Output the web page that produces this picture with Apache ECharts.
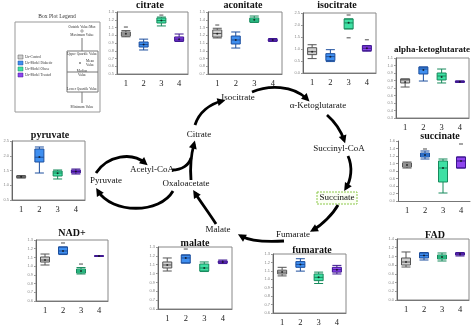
<!DOCTYPE html>
<html><head><meta charset="utf-8">
<script src="https://cdn.jsdelivr.net/npm/echarts@6/dist/echarts.min.js"></script>
<style>html,body{margin:0;padding:0;background:#fff}#c{width:474px;height:327px}</style>
</head><body><div id="c"></div>
<script>
// ---------- DATA ----------
const groups = ['1', '2', '3', '4'];
const groupNames = ['Un-Control', 'Un-Model Diabetic', 'Un-Model Obese', 'Un-Model Treated'];
// boxes: [min, Q1, median, Q3, max] for groups 1..4
const citrateBox = [[0.98, 0.99, 1.016, 1.042, 1.06], [0.81, 0.848, 0.88, 0.913, 0.95], [1.12, 1.158, 1.19, 1.223, 1.235], [0.92, 0.926, 0.95, 0.978, 1.016]];
const citrateMean = [1.02, 0.88, 1.19, 0.95];
const citrateOut = [[0, 1.106], [2, 1.26]];
const aconitateBox = [[1.165, 1.177, 1.223, 1.268, 1.29], [1.035, 1.087, 1.139, 1.19, 1.242], [1.365, 1.371, 1.397, 1.423, 1.448], [1.12, 1.126, 1.139, 1.148, 1.158]];
const aconitateMean = [1.22, 1.14, 1.40, 1.14];
const aconitateOut = [[0, 1.332]];
const isocitrateBox = [[0.6, 0.765, 0.889, 1.054, 1.178], [0.476, 0.517, 0.682, 0.806, 0.972], [1.839, 1.839, 2.087, 2.252, 2.252], [0.91, 0.93, 1.033, 1.137, 1.137]];
const isocitrateMean = [0.89, 0.68, 2.09, 1.03];
const isocitrateOut = [[2, 2.417], [2, 1.467], [3, 1.385]];
const akgBox = [[0.713, 0.767, 0.807, 0.82, 0.82], [0.793, 0.887, 0.953, 0.98, 0.98], [0.767, 0.807, 0.86, 0.9, 0.953], [0.776, 0.776, 0.784, 0.793, 0.793]];
const akgMean = [0.78, 0.94, 0.847, 0.784];
const akgOut = [];
const pyruvateBox = [[1.246, 1.256, 1.286, 1.314, 1.33], [1.415, 1.788, 1.95, 2.229, 2.297], [1.212, 1.314, 1.415, 1.483, 1.517], [1.38, 1.415, 1.466, 1.517, 1.55]];
const pyruvateMean = [1.29, 1.96, 1.41, 1.47];
const pyruvateOut = [];
const succinateBox = [[0.88, 0.907, 0.96, 1.013, 1.04], [1.12, 1.173, 1.227, 1.28, 1.333], [0.213, 0.507, 0.88, 1.067, 1.12], [0.88, 0.88, 1.067, 1.173, 1.173]];
const succinateMean = [0.96, 1.227, 0.88, 1.07];
const succinateOut = [[1, 1.387], [3, 1.52]];
const nadBox = [[1.013, 1.047, 1.07, 1.105, 1.139], [1.133, 1.139, 1.174, 1.22, 1.22], [0.91, 0.921, 0.944, 0.967, 0.984], [1.113, 1.114, 1.116, 1.118, 1.119]];
const nadMean = [1.07, 1.174, 0.944, 1.116];
const nadOut = [[1, 1.266], [2, 1.024]];
const malateBox = [[1.029, 1.063, 1.097, 1.131, 1.176], [1.119, 1.119, 1.176, 1.21, 1.21], [1.023, 1.029, 1.063, 1.108, 1.131], [1.113, 1.119, 1.131, 1.142, 1.153]];
const malateMean = [1.097, 1.176, 1.063, 1.131];
const malateOut = [[1, 1.277]];
const fumarateBox = [[1.04, 1.063, 1.085, 1.108, 1.142], [1.097, 1.142, 1.176, 1.21, 1.244], [0.95, 0.984, 1.023, 1.063, 1.085], [1.063, 1.085, 1.114, 1.142, 1.165]];
const fumarateMean = [1.085, 1.176, 1.023, 1.114];
const fumarateOut = [];
const fadBox = [[0.757, 0.803, 0.872, 0.964, 1.102], [0.918, 0.964, 1.021, 1.079, 1.09], [0.895, 0.941, 0.987, 1.033, 1.079], [1.01, 1.033, 1.056, 1.079, 1.09]];
const fadMean = [0.87, 1.02, 0.987, 1.056];
const fadOut = [];
// y-axis ticks: [min, max, interval]
const citrateTicks = [0.5, 1.3, 0.1];
const aconitateTicks = [0.7, 1.5, 0.1];
const isocitrateTicks = [0, 2.5, 0.5];
const akgTicks = [0.3, 1.1, 0.1];
const pyruvateTicks = [0.5, 2.5, 0.5];
const succinateTicks = [0, 1.6, 0.2];
const nadTicks = [0.6, 1.3, 0.1];
const malateTicks = [0.6, 1.3, 0.1];
const fumarateTicks = [0.6, 1.3, 0.1];
const fadTicks = [0, 1.4, 0.2];
const metaboliteTitles = ['citrate', 'aconitate', 'isocitrate', 'alpha-ketoglutarate', 'pyruvate', 'succinate', 'NAD+', 'malate', 'fumarate', 'FAD'];
const cycleLabels = ['Isocitrate', 'α-Ketoglutarate', 'Citrate', 'Succinyl-CoA', 'Acetyl-CoA', 'Pyruvate', 'Oxaloacetate', 'Succinate', 'Malate', 'Fumarate'];

// ---------- LAYOUT / STYLE ----------
const fills = ['#cfcfcf', '#3f8ff0', '#3fe0a4', '#8f45ee'];
const borders = ['#555', '#1d4f9e', '#178a5c', '#3d1590'];
const SERIF = '"Liberation Serif", "DejaVu Serif", serif';

const plots = [
  {box: citrateBox, mean: citrateMean, out: citrateOut, ticks: citrateTicks, g: [117, 12, 71, 62], t: [150, 5], fs: 10, frame: true},
  {box: aconitateBox, mean: aconitateMean, out: aconitateOut, ticks: aconitateTicks, g: [208, 12, 74, 62], t: [243, 5], fs: 10, frame: true},
  {box: isocitrateBox, mean: isocitrateMean, out: isocitrateOut, ticks: isocitrateTicks, g: [303, 13, 73, 60], t: [337, 5], fs: 10, frame: true},
  {box: akgBox, mean: akgMean, out: akgOut, ticks: akgTicks, g: [396, 58, 73, 60], t: [432, 50], fs: 9, frame: true},
  {box: pyruvateBox, mean: pyruvateMean, out: pyruvateOut, ticks: pyruvateTicks, g: [12, 141, 73, 59], t: [50, 135], fs: 10, frame: true},
  {box: succinateBox, mean: succinateMean, out: succinateOut, ticks: succinateTicks, g: [398, 141, 72, 60], t: [440, 136], fs: 10, frame: false},
  {box: nadBox, mean: nadMean, out: nadOut, ticks: nadTicks, g: [36, 240, 72, 61], t: [72, 233], fs: 10, frame: true},
  {box: malateBox, mean: malateMean, out: malateOut, ticks: malateTicks, g: [158, 247, 74, 62], t: [195, 243], fs: 10, frame: true},
  {box: fumarateBox, mean: fumarateMean, out: fumarateOut, ticks: fumarateTicks, g: [273, 254, 73, 62], t: [312, 250], fs: 10, frame: true},
  {box: fadBox, mean: fadMean, out: fadOut, ticks: fadTicks, g: [397, 239, 72, 61], t: [435, 235], fs: 10, frame: true}
];

const grid = [], xAxis = [], yAxis = [], series = [], graphic = [];
plots.forEach((p, i) => {
  grid.push({left: p.g[0], top: p.g[1], width: p.g[2], height: p.g[3], show: p.frame, borderColor: '#888', borderWidth: 1, backgroundColor: 'transparent'});
  xAxis.push({type: 'category', gridIndex: i, data: groups,
    axisLine: {show: true, lineStyle: {color: '#777'}}, axisTick: {show: false},
    axisLabel: {fontFamily: SERIF, fontSize: 8.5, color: '#222', margin: 5}});
  yAxis.push({type: 'value', gridIndex: i, min: p.ticks[0], max: p.ticks[1], interval: p.ticks[2],
    axisLine: {show: true, lineStyle: {color: '#666'}}, axisTick: {show: true, length: 2, lineStyle: {color: '#999'}},
    splitLine: {show: false},
    axisLabel: {fontSize: 4, color: '#888', margin: 3, formatter: v => v.toFixed(1)}});
  series.push({type: 'boxplot', xAxisIndex: i, yAxisIndex: i, boxWidth: [9, 9],
    data: p.box.map((b, k) => ({value: b, itemStyle: {color: fills[k], borderColor: borders[k], borderWidth: 1}}))});
  series.push({type: 'scatter', xAxisIndex: i, yAxisIndex: i, symbolSize: 2, itemStyle: {color: '#111'},
    data: p.mean.map((m, k) => [k, m])});
  series.push({type: 'scatter', xAxisIndex: i, yAxisIndex: i, symbol: 'rect', symbolSize: [4, 1.2], itemStyle: {color: '#444'},
    data: p.out});
  graphic.push({type: 'text', x: p.t[0], y: p.t[1], style: {text: metaboliteTitles[i], fontFamily: SERIF, fontWeight: 'bold', fontSize: p.fs, fill: '#111', align: 'center', verticalAlign: 'middle'}});
});

// ---------- CYCLE DIAGRAM ----------
const labelPos = [[238, 98], [318, 106], [199, 135], [339, 149], [152, 170], [106, 181], [186, 184], [337, 198], [218, 230], [293, 235]];
cycleLabels.forEach((t, i) => {
  graphic.push({type: 'text', x: labelPos[i][0], y: labelPos[i][1], z: 10, style: {text: t, fontFamily: SERIF, fontSize: 9, fill: '#111', align: 'center', verticalAlign: 'middle'}});
});
graphic.push({type: 'rect', shape: {x: 317, y: 192, width: 40, height: 12}, z: 5, style: {fill: '#fbfff4', stroke: '#8cc84b', lineWidth: 1, lineDash: [2, 1]}});

function arrow(c, head) {
  graphic.push({type: 'bezierCurve', shape: {x1: c[0], y1: c[1], cpx1: c[2], cpy1: c[3], cpx2: c[4], cpy2: c[5], x2: c[6], y2: c[7]},
    style: {stroke: '#000', lineWidth: 2.8, fill: null}});
  if (head) {
    const dx = c[6] - c[4], dy = c[7] - c[5], L = Math.hypot(dx, dy) || 1;
    const ux = dx / L, uy = dy / L, hl = 8, hw = 4;
    const tipx = c[6] + ux * 3.5, tipy = c[7] + uy * 3.5;
    const bx = tipx - ux * hl, by = tipy - uy * hl;
    graphic.push({type: 'polygon', shape: {points: [[tipx, tipy], [bx - uy * hw, by + ux * hw], [bx + uy * hw, by - ux * hw]]}, style: {fill: '#000'}});
  }
}
arrow([195, 125, 199, 112, 210, 104, 222, 101], true);
arrow([252, 92, 268, 85, 293, 85, 307, 99], true);
arrow([327, 115, 335, 122, 341, 131, 344, 140], true);
arrow([348, 156, 353, 167, 351, 180, 346, 188], true);
arrow([338, 205, 333, 214, 322, 225, 313, 230], true);
arrow([284, 241, 268, 242, 252, 242, 241, 236], true);
arrow([216, 224, 209, 213, 200, 201, 195, 193], true);
arrow([191, 180, 190, 168, 191, 155, 194, 144], true);
arrow([172, 170, 182, 170, 189, 165, 191, 158], false);
arrow([96, 173, 108, 155, 132, 152, 145, 163], true);
arrow([173, 191, 160, 214, 112, 214, 98, 191], true);

// ---------- LEGEND PANEL ----------
graphic.push({type: 'text', x: 57, y: 17, style: {text: 'Box Plot Legend', fontFamily: SERIF, fontSize: 5.5, fill: '#333', align: 'center', verticalAlign: 'middle'}});
graphic.push({type: 'rect', shape: {x: 15, y: 22, width: 85, height: 90}, style: {fill: '#fff', stroke: '#999', lineWidth: 1}});
groupNames.forEach((n, k) => {
  graphic.push({type: 'rect', shape: {x: 18, y: 55 + k * 6, width: 5, height: 4}, style: {fill: fills[k], stroke: borders[k], lineWidth: 0.5}});
  graphic.push({type: 'text', x: 25, y: 57 + k * 6, style: {text: n, fontFamily: SERIF, fontSize: 3.5, fill: '#333', verticalAlign: 'middle'}});
});
const sx = 82;
[['Outside Value/Max', 27], ['Maximum Value', 35], ['Upper Quartile Value', 54], ['Mean', 61], ['Value', 65], ['Median', 71], ['Value', 75], ['Lower Quartile Value', 89], ['Minimum Value', 107]].forEach((a, k) => {
  graphic.push({type: 'text', x: (k === 3 || k === 4) ? 90 : sx, y: a[1], z: 12, style: {text: a[0], fontFamily: SERIF, fontSize: 3.5, fill: '#333', align: 'center', verticalAlign: 'middle'}});
});
graphic.push({type: 'circle', shape: {cx: sx, cy: 31, r: 1.2}, style: {fill: 'none', stroke: '#444', lineWidth: 0.5}});
graphic.push({type: 'line', shape: {x1: sx, y1: 38, x2: sx, y2: 51}, style: {stroke: '#777', lineWidth: 1}});
graphic.push({type: 'rect', z: 11, shape: {x: 67, y: 51, width: 31, height: 41}, style: {fill: '#fff', stroke: '#777', lineWidth: 1}});
graphic.push({type: 'line', z: 12, shape: {x1: 67, y1: 72, x2: 98, y2: 72}, style: {stroke: '#777', lineWidth: 1}});
graphic.push({type: 'circle', z: 12, shape: {cx: 80, cy: 63, r: 0.8}, style: {fill: '#222'}});
graphic.push({type: 'line', shape: {x1: sx, y1: 92, x2: sx, y2: 103}, style: {stroke: '#777', lineWidth: 1}});

const chart = echarts.init(document.getElementById('c'), null, {renderer: 'canvas'});
chart.setOption({animation: false, backgroundColor: '#fff', grid, xAxis, yAxis, series, graphic});
</script></body></html>
